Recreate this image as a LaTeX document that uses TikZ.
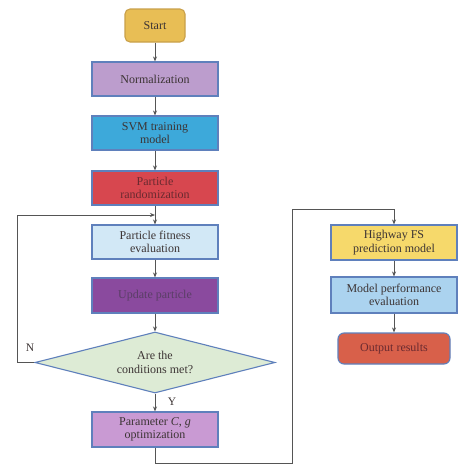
\documentclass[tikz,border=0pt]{standalone}
\usepackage{fontspec}
\setmainfont{Liberation Serif}
\usetikzlibrary{shapes.geometric,arrows.meta}
\definecolor{cstart}{HTML}{E8BE55}
\definecolor{cstartb}{HTML}{C9A04A}
\definecolor{cnorm}{HTML}{BC9DCD}
\definecolor{csvm}{HTML}{3DA9DA}
\definecolor{crand}{HTML}{D7474F}
\definecolor{cfit}{HTML}{D2E8F6}
\definecolor{cupd}{HTML}{8A4A9E}
\definecolor{cdia}{HTML}{DDEBD5}
\definecolor{cpar}{HTML}{C99AD3}
\definecolor{chw}{HTML}{F6D96B}
\definecolor{cmod}{HTML}{ABD3EF}
\definecolor{cout}{HTML}{D8604A}
\definecolor{cbord}{HTML}{5F80BC}
\definecolor{ctext}{HTML}{3C3434}
\definecolor{cupdt}{HTML}{5A3E66}
\definecolor{crandt}{HTML}{6A2A30}
\definecolor{cline}{HTML}{555555}
\tikzset{
  x=1pt, y=1pt,
  box/.style={draw=cbord, line width=1.1pt, minimum width=126pt, minimum height=34pt,
    inner sep=1pt, align=center, text=ctext, font=\fontsize{12}{13.5}\selectfont},
  conn/.style={draw=cline, line width=0.8pt},
  arr/.style={conn, -{Stealth[length=5pt,width=4pt]}},
  lbl/.style={text=ctext, font=\fontsize{11.5}{13}\selectfont}
}
\begin{document}
\begin{tikzpicture}
\useasboundingbox (0,0) rectangle (474,-474);
\fill[white] (0,0) rectangle (474,-474);
\node[box, fill=cstart, draw=cstartb, minimum width=60pt, minimum height=33pt, rounded corners=5pt] (start) at (155,-25.5) {Start};
\node[box, fill=cnorm] (norm) at (155,-79) {Normalization};
\node[box, fill=csvm] (svm) at (155,-133) {SVM training\\model};
\node[box, fill=crand, text=crandt] (rand) at (155,-188) {Particle\\randomization};
\node[box, fill=cfit] (fit) at (155,-242) {Particle fitness\\evaluation};
\node[box, fill=cupd, minimum height=35pt, text=cupdt] (upd) at (155,-295.5) {Update particle};
\node[box, diamond, aspect=3.9, fill=cdia, minimum width=240pt, minimum height=61pt, inner sep=0pt] (dia) at (155,-362.5) {Are the\\conditions met?};
\node[box, fill=cpar, minimum height=35pt] (par) at (155,-429.5) {Parameter \textit{C}, \textit{g}\\optimization};
\node[box, fill=chw, minimum height=35pt] (hw) at (394,-242.5) {Highway FS\\prediction model};
\node[box, fill=cmod, minimum height=36pt] (mod) at (394,-295) {Model performance\\evaluation};
\node[box, fill=cout, text=crandt, minimum width=112pt, minimum height=31pt, rounded corners=6pt] (out) at (394,-348.5) {Output results};
\node[lbl] (nlab) at (30,-348) {N};
\node[lbl] (ylab) at (172,-402) {Y};
\coordinate (loop) at (155,-215);
\coordinate (lc) at (17,-362.5);
\coordinate (pc1) at (292,-463);
\coordinate (pc2) at (292,-209);
\draw[arr] (start) -- (norm);
\draw[arr] (norm) -- (svm);
\draw[arr] (svm) -- (rand);
\draw[arr] (rand) -- (fit);
\draw[arr] (fit) -- (upd);
\draw[arr] (upd) -- (dia);
\draw[arr] (dia) -- (par);
\draw[arr] (dia.west) -- (lc) |- (loop);
\draw[conn] (par.south) |- (pc1) -- (pc2);
\draw[arr] (pc2) -| (hw.north);
\draw[arr] (hw) -- (mod);
\draw[arr] (mod) -- (out);
\end{tikzpicture}
\end{document}
